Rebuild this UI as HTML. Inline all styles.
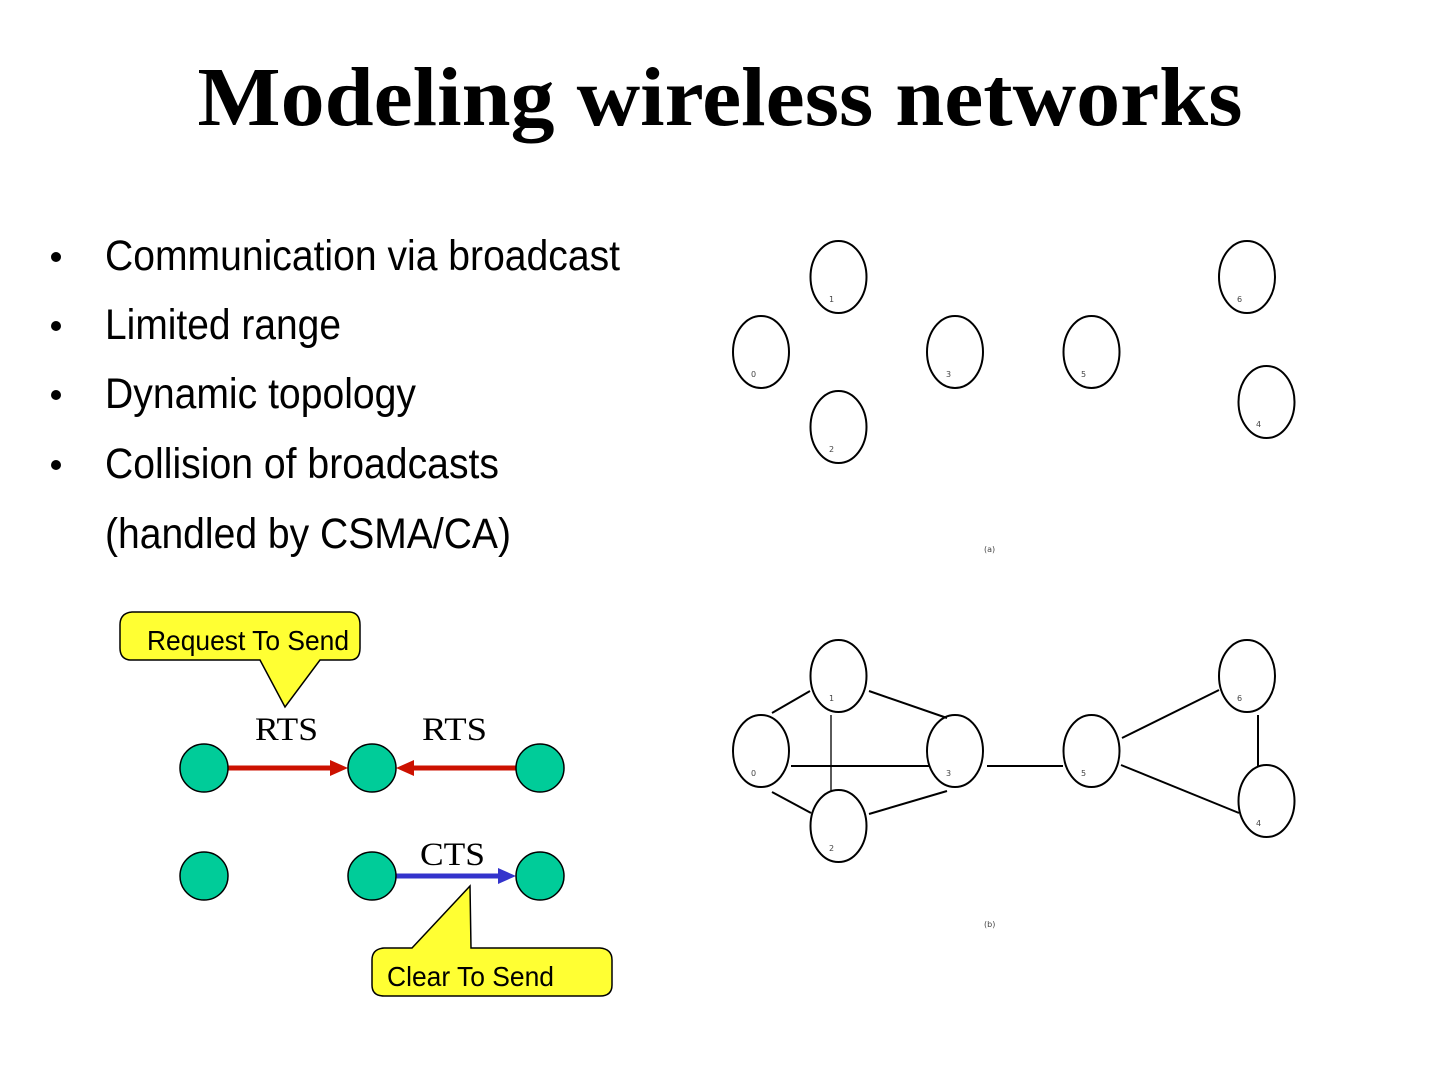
<!DOCTYPE html>
<html><head><meta charset="utf-8"><style>html,body{margin:0;padding:0;background:#fff}svg{display:block}</style></head>
<body>
<svg width="1440" height="1080" viewBox="0 0 1440 1080" xmlns="http://www.w3.org/2000/svg">
<defs>
<g id="nodes" fill="none" stroke="#000" stroke-width="2">
<ellipse cx="838.5" cy="277" rx="28" ry="36"/>
<ellipse cx="761" cy="352" rx="28" ry="36"/>
<ellipse cx="955" cy="352" rx="28" ry="36"/>
<ellipse cx="1091.5" cy="352" rx="28" ry="36"/>
<ellipse cx="1247" cy="277" rx="28" ry="36"/>
<ellipse cx="1266.5" cy="402" rx="28" ry="36"/>
<ellipse cx="838.5" cy="427" rx="28" ry="36"/>
</g>
</defs>
<text x="720" y="125" text-anchor="middle" font-family="Liberation Serif, serif" font-weight="bold" font-size="84" textLength="1045" lengthAdjust="spacingAndGlyphs">Modeling wireless networks</text>

<g font-family="Liberation Sans Narrow, Liberation Sans, sans-serif" font-size="43" fill="#000">
<circle cx="56" cy="257" r="5"/><text x="105" y="270" textLength="515" lengthAdjust="spacingAndGlyphs">Communication via broadcast</text>
<circle cx="56" cy="326" r="5"/><text x="105" y="339" textLength="236" lengthAdjust="spacingAndGlyphs">Limited range</text>
<circle cx="56" cy="395" r="5"/><text x="105" y="408" textLength="311" lengthAdjust="spacingAndGlyphs">Dynamic topology</text>
<circle cx="56" cy="465" r="5"/><text x="105" y="478" textLength="394" lengthAdjust="spacingAndGlyphs">Collision of broadcasts</text>
<text x="105" y="548" textLength="406" lengthAdjust="spacingAndGlyphs">(handled by CSMA/CA)</text>
</g>

<!-- graph a -->
<use href="#nodes"/>
<g font-family="DejaVu Sans, sans-serif" font-size="8" fill="#444">
<text x="829" y="302">1</text><text x="751" y="377">0</text><text x="946" y="377">3</text><text x="1081" y="377">5</text>
<text x="1237" y="302">6</text><text x="1256" y="427">4</text><text x="829" y="452">2</text>
<text x="984" y="552">(a)</text>
</g>

<!-- graph b -->
<g transform="translate(0,399)"><use href="#nodes"/>
<g font-family="DejaVu Sans, sans-serif" font-size="8" fill="#444">
<text x="829" y="302">1</text><text x="751" y="377">0</text><text x="946" y="377">3</text><text x="1081" y="377">5</text>
<text x="1237" y="302">6</text><text x="1256" y="427">4</text><text x="829" y="452">2</text>
<text x="984" y="528">(b)</text>
</g></g>
<g stroke="#000" stroke-width="2">
<line x1="772" y1="713" x2="810" y2="691"/>
<line x1="869" y1="691" x2="947" y2="718"/>
<line x1="831" y1="715" x2="831" y2="792" stroke-width="1.3"/>
<line x1="791" y1="766" x2="929" y2="766"/>
<line x1="772" y1="792" x2="811" y2="813"/>
<line x1="869" y1="814" x2="947" y2="791"/>
<line x1="987" y1="766" x2="1063" y2="766"/>
<line x1="1122" y1="738" x2="1219" y2="690"/>
<line x1="1121" y1="765" x2="1239" y2="813"/>
<line x1="1258" y1="715" x2="1258" y2="766"/>
</g>

<!-- RTS/CTS -->
<path d="M132,612 L350,612 Q360,613 360,625 L360,648 Q360,660 350,660 L320,660 L285,707 L260,660 L130,660 Q120,659 120,648 L120,625 Q120,613 132,612 Z" fill="#ffff33" stroke="#000" stroke-width="1.5"/>
<text x="147" y="650" font-family="Liberation Sans Narrow, Liberation Sans, sans-serif" font-size="28" textLength="202" lengthAdjust="spacingAndGlyphs">Request To Send</text>
<path d="M384,948 L412,948 L470,886 L471,948 L600,948 Q612,949 612,960 L612,985 Q612,996 600,996 L384,996 Q372,996 372,985 L372,960 Q372,949 384,948 Z" fill="#ffff33" stroke="#000" stroke-width="1.5"/>
<text x="387" y="986" font-family="Liberation Sans Narrow, Liberation Sans, sans-serif" font-size="28" textLength="167" lengthAdjust="spacingAndGlyphs">Clear To Send</text>

<g font-family="Liberation Serif, serif" font-size="33">
<text x="255" y="740" textLength="63" lengthAdjust="spacingAndGlyphs">RTS</text>
<text x="422" y="740" textLength="65" lengthAdjust="spacingAndGlyphs">RTS</text>
<text x="420" y="865" textLength="65" lengthAdjust="spacingAndGlyphs">CTS</text>
</g>
<g stroke="#cc1100" stroke-width="5"><line x1="226" y1="768" x2="332" y2="768"/><line x1="412" y1="768" x2="518" y2="768"/></g>
<path d="M330,760 L348,768 L330,776 Z M414,760 L396,768 L414,776 Z" fill="#cc1100"/>
<line x1="393" y1="876" x2="500" y2="876" stroke="#3333cc" stroke-width="5"/>
<path d="M498,868 L516,876 L498,884 Z" fill="#3333cc"/>
<g fill="#00cc99" stroke="#000" stroke-width="1.5">
<circle cx="204" cy="768" r="24"/><circle cx="372" cy="768" r="24"/><circle cx="540" cy="768" r="24"/>
<circle cx="204" cy="876" r="24"/><circle cx="372" cy="876" r="24"/><circle cx="540" cy="876" r="24"/>
</g>
</svg>
</body></html>
